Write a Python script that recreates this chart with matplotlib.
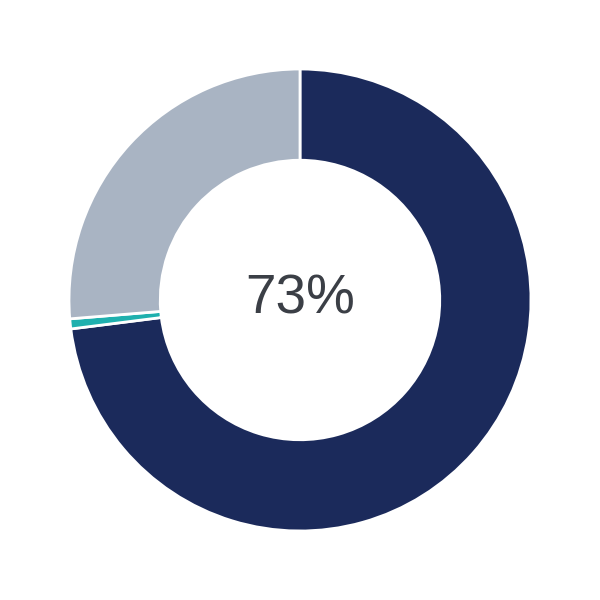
import matplotlib.pyplot as plt

labels = ['Yes', 'Other', 'No']
values = [73, 0.7, 26.3]
colors = ['#1b2a5b', '#1fb0ae', '#a9b4c3']
center_text = '73%'

fig = plt.figure(figsize=(6, 6), dpi=100)
ax = fig.add_axes([0, 0, 1, 1])
ax.pie(values, colors=colors, startangle=90, counterclock=False, radius=1,
       wedgeprops={'width': 0.395, 'edgecolor': 'white', 'linewidth': 2})
lim = 300 / 231
ax.set_xlim(-lim, lim)
ax.set_ylim(-lim, lim)
ax.set_aspect('equal')
ax.axis('off')
ax.text(0, 0.0, center_text, ha='center', va='center', fontsize=39.5,
        color='#3b3f46', family=['Liberation Sans', 'DejaVu Sans'])
fig.savefig('out.png', dpi=100)
